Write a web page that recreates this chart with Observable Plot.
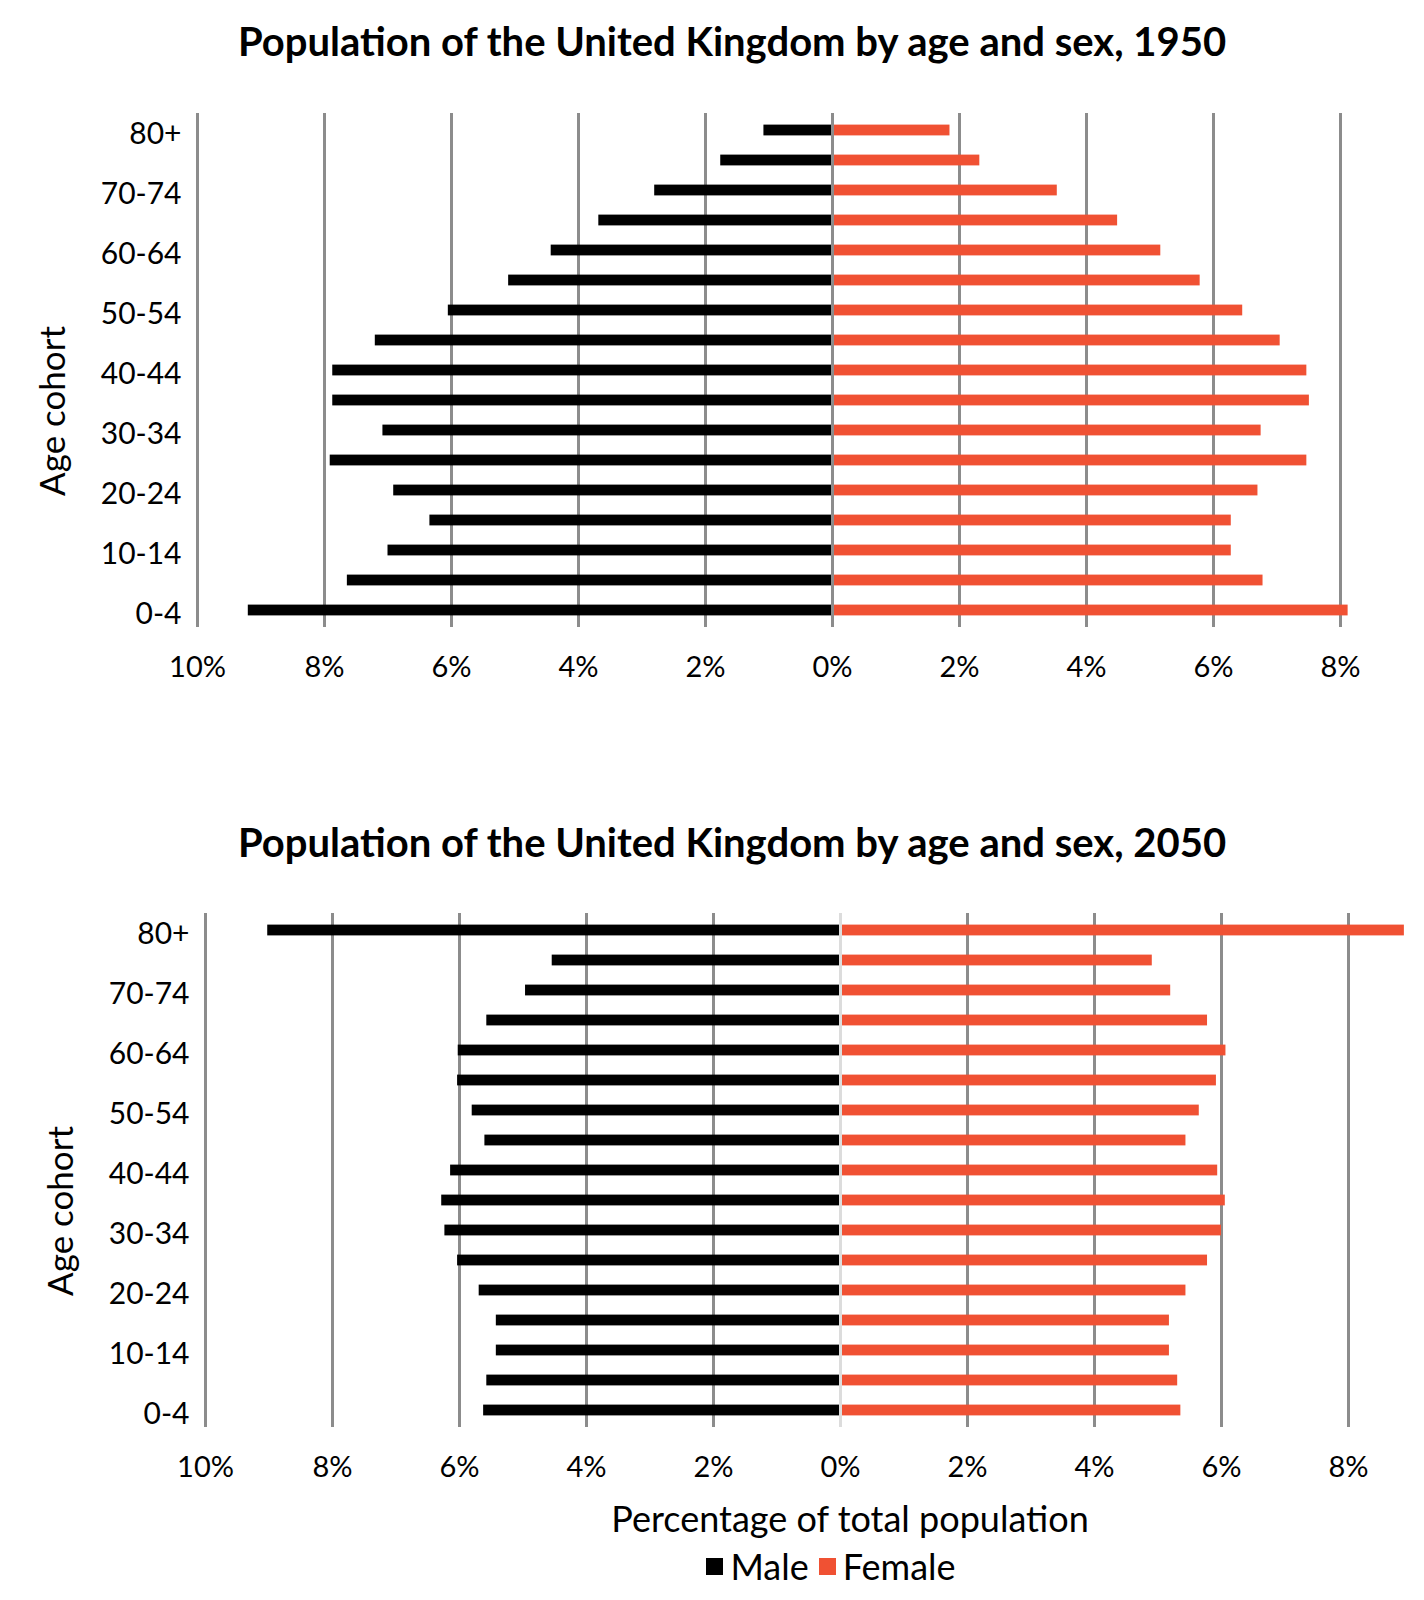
<!DOCTYPE html>
<html>
<head>
<meta charset="utf-8">
<script src="https://cdn.jsdelivr.net/npm/d3@7"></script>
<script src="https://cdn.jsdelivr.net/npm/@observablehq/plot@0.6"></script>
<style>
  html, body { margin: 0; padding: 0; background: #fff; }
  #page { position: relative; width: 1424px; height: 1600px; font-family: Lato, "Open Sans", sans-serif; color: #000; }
  .title { position: absolute; left: 40px; width: 1384px; text-align: center; font-size: 40px; font-weight: 700; line-height: 1; }
  .svgwrap { position: absolute; left: 0; }
  .ylab { position: absolute; font-size: 35px; white-space: nowrap; transform: translate(-50%, -50%) rotate(-90deg); line-height: 1; }
  #xlab { position: absolute; top: 1500px; left: 0; width: 1424px; padding-left: 276px; box-sizing: border-box; text-align: center; font-size: 36px; line-height: 1; }
  #legend { position: absolute; top: 1548px; left: 0; width: 1424px; display: flex; justify-content: center; align-items: center; padding-left: 248px; box-sizing: border-box; font-size: 36px; line-height: 1; }
  #legend .sw { width: 17px; height: 17px; display: inline-block; margin-right: 7px; }
  #legend .item { display: inline-flex; align-items: center; margin-right: 10px; }
</style>
</head>
<body>
<div id="page">
  <div class="title" style="top:21px">Population of the United Kingdom by age and sex, 1950</div>
  <div class="svgwrap" id="chart1" style="top:80px"></div>
  <div class="ylab" style="left:51px; top:411px">Age cohort</div>
  <div class="title" style="top:822px">Population of the United Kingdom by age and sex, 2050</div>
  <div class="svgwrap" id="chart2" style="top:880px"></div>
  <div class="ylab" style="left:59px; top:1211px">Age cohort</div>
  <div id="xlab">Percentage of total population</div>
  <div id="legend"></div>
</div>
<script>
const ages = ["80+","75-79","70-74","65-69","60-64","55-59","50-54","45-49","40-44","35-39","30-34","25-29","20-24","15-19","10-14","5-9","0-4"];
const ageTickLabels = ["80+","70-74","60-64","50-54","40-44","30-34","20-24","10-14","0-4"];
const xTickValues = [-10,-8,-6,-4,-2,0,2,4,6,8];
const sexes = ["Male","Female"];
const sexColors = ["#000000","#f05133"];

const male1950   = [1.08, 1.76, 2.80, 3.68, 4.43, 5.10, 6.05, 7.20, 7.87, 7.87, 7.08, 7.91, 6.91, 6.34, 7.00, 7.64, 9.20];
const female1950 = [1.85, 2.32, 3.54, 4.49, 5.17, 5.79, 6.46, 7.05, 7.47, 7.51, 6.75, 7.47, 6.70, 6.28, 6.28, 6.78, 8.12];
const male2050   = [9.02, 4.54, 4.96, 5.57, 6.02, 6.03, 5.80, 5.60, 6.14, 6.28, 6.23, 6.03, 5.69, 5.42, 5.42, 5.57, 5.62];
const female2050 = [8.88, 4.91, 5.20, 5.78, 6.07, 5.92, 5.65, 5.44, 5.94, 6.06, 6.00, 5.78, 5.44, 5.18, 5.18, 5.31, 5.36];

function pyramid(male, female, zeroColor, marginLeft) {
  const rows = ages.flatMap((a, i) => [
    {age: a, sex: "Male", v: -male[i]},
    {age: a, sex: "Female", v: female[i]}
  ]);
  const pxPerUnit = 63.5;
  const right = marginLeft + 19 * pxPerUnit;
  const fmt = d => Math.abs(d) + "%";
  return Plot.plot({
    width: 1424,
    height: 620,
    marginTop: 33,
    marginBottom: 73,
    marginLeft: marginLeft,
    marginRight: 1424 - right,
    style: {fontFamily: "Lato, 'Open Sans', sans-serif", fontSize: "29px", color: "#000", background: "transparent", overflow: "visible"},
    x: {domain: [-10, 9], ticks: xTickValues, tickFormat: fmt},
    y: {domain: ages, padding: 0},
    color: {domain: sexes, range: sexColors},
    marks: [
      Plot.ruleX(xTickValues.filter(d => d !== 0), {stroke: "#8c8c8c", strokeWidth: 3}),
      Plot.barX(rows, {x: "v", y: "age", fill: "sex", insetTop: 9.6, insetBottom: 9.6}),
      Plot.ruleX([0], {stroke: zeroColor, strokeWidth: 3}),
      Plot.axisX({ticks: xTickValues, tickFormat: fmt, tickSize: 0, tickPadding: 29, label: null, fontSize: 29}),
      Plot.axisY({ticks: ageTickLabels, tickSize: 0, tickPadding: 16, label: null, fontSize: 30, dy: 4})
    ]
  });
}

document.getElementById("chart1").appendChild(pyramid(male1950, female1950, "#8c8c8c", 197));
document.getElementById("chart2").appendChild(pyramid(male2050, female2050, "#dcdcdc", 205));

const legend = document.getElementById("legend");
sexes.forEach((s, i) => {
  const item = document.createElement("span");
  item.className = "item";
  const sw = document.createElement("span");
  sw.className = "sw";
  sw.style.background = sexColors[i];
  item.appendChild(sw);
  item.appendChild(document.createTextNode(s));
  legend.appendChild(item);
});
</script>
</body>
</html>
